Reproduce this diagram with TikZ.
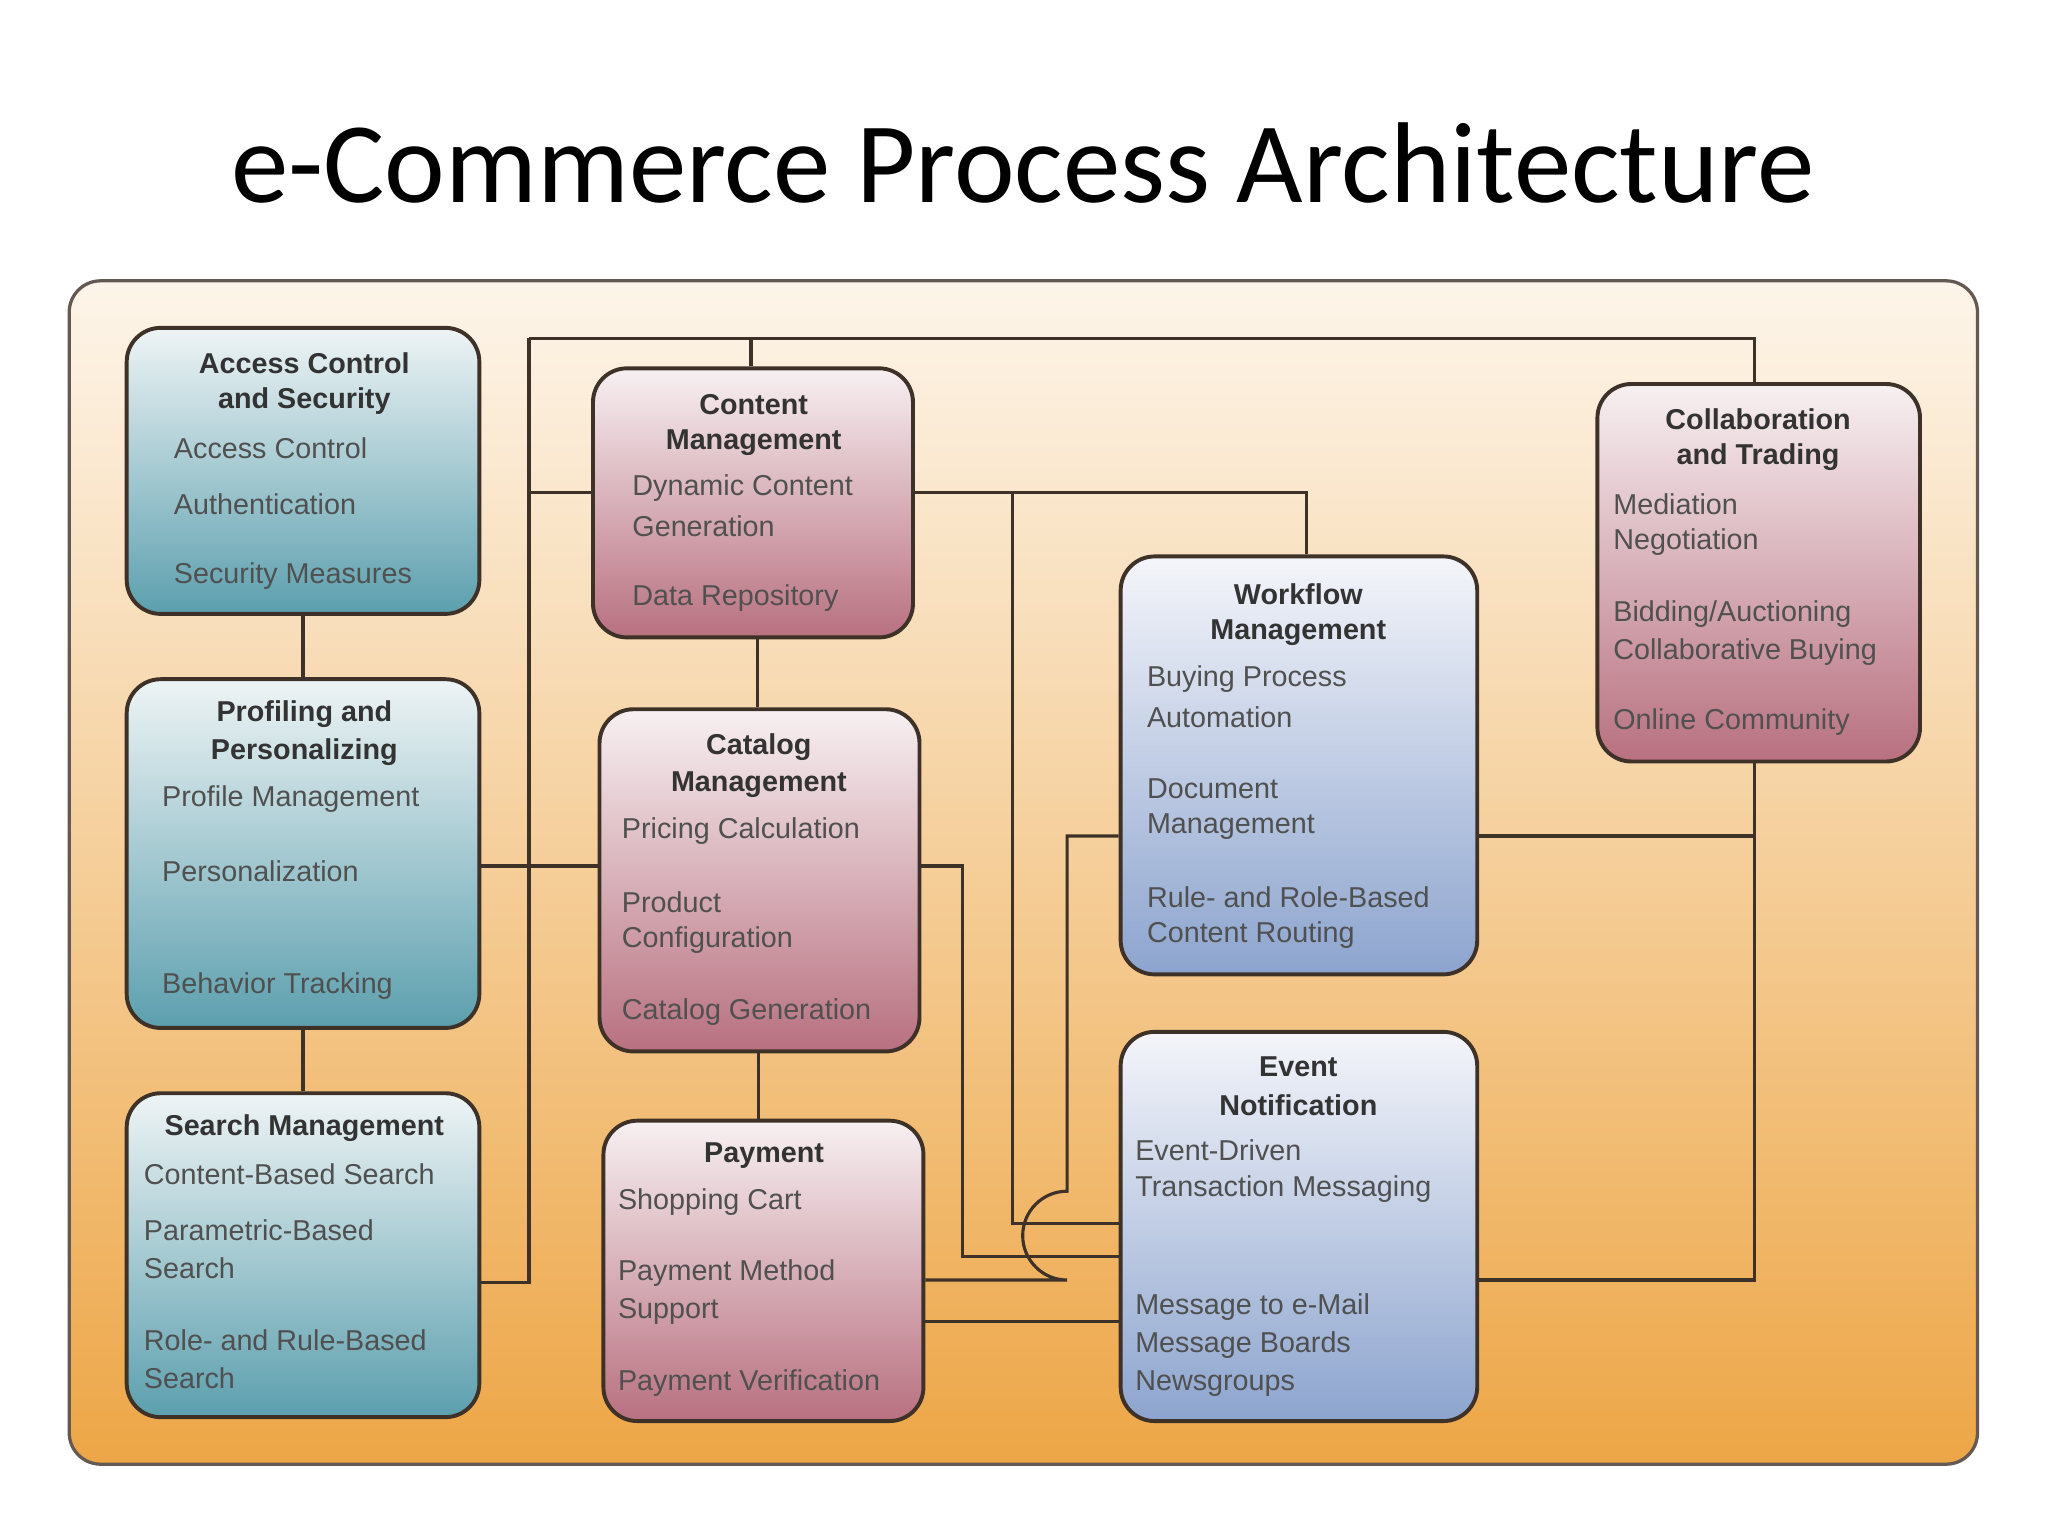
\documentclass[tikz,border=0pt]{standalone}
\usepackage{fontspec}
\setmainfont{Liberation Sans}
\newfontfamily\titlefont{Carlito}
\begin{document}
\begin{tikzpicture}[x=1pt,y=-1pt,
  box/.style={draw=linec,line width=3pt,rounded corners=26pt,inner sep=0pt},
  teal/.style={box,top color=tealtop,bottom color=tealbot},
  pink/.style={box,top color=pinktop,bottom color=pinkbot},
  blue/.style={box,top color=bluetop,bottom color=bluebot},
  hd/.style={font=\fontsize{22}{26}\selectfont\bfseries,text=headc,inner sep=0pt},
  it/.style={font=\fontsize{22}{26}\selectfont,text=itemc,anchor=west,inner sep=0pt},
  wire/.style={draw=linec,line width=2.4pt}]
\definecolor{linec}{HTML}{3E3128}
\definecolor{tealtop}{HTML}{EEF4F5}
\definecolor{tealbot}{HTML}{5C9FAE}
\definecolor{pinktop}{HTML}{F7F0F2}
\definecolor{pinkbot}{HTML}{B8707F}
\definecolor{bluetop}{HTML}{F4F5FA}
\definecolor{bluebot}{HTML}{8CA4CE}
\definecolor{orgtop}{HTML}{FDF5EA}
\definecolor{orgbot}{HTML}{EDA646}
\definecolor{headc}{HTML}{333333}
\definecolor{itemc}{HTML}{505050}
\useasboundingbox[fill=white] (0,0) rectangle (1568,1176);
\node[font=\titlefont\fontsize{88}{96}\selectfont] (title) at (783,125) {e-Commerce Process Architecture};
\node[draw=linec!80,line width=2.5pt,rounded corners=24pt,top color=orgtop,bottom color=orgbot,minimum width=1461pt,minimum height=906pt,inner sep=0pt] (panel) at (783.5,668) {};
% boxes
\node[teal,minimum width=270pt,minimum height=219pt] (access) at (232,360.5) {};
\node[teal,minimum width=270pt,minimum height=267pt] (prof) at (232,653.5) {};
\node[teal,minimum width=270pt,minimum height=248pt] (search) at (232,961) {};
\node[pink,minimum width=245pt,minimum height=206pt] (content) at (576.5,385) {};
\node[pink,minimum width=245pt,minimum height=262pt] (catalog) at (581.5,674) {};
\node[pink,minimum width=245pt,minimum height=230pt] (payment) at (584.5,973) {};
\node[blue,minimum width=273pt,minimum height=320pt] (workflow) at (994.5,586) {};
\node[blue,minimum width=273pt,minimum height=298pt] (event) at (994.5,939) {};
\node[pink,minimum width=247pt,minimum height=289pt] (collab) at (1346.5,438.5) {};
% wires
\coordinate (tl) at (405,259);
\coordinate (tr) at (1343,259);
\draw[wire] (tl) -- (tr) -- (collab.north -| tr);
\draw[wire] (575,259) -- (content.north -| 575,0);
\draw[wire] (tl) -- (405,982) -- (search.east |- 0,982);
\draw[wire] (content.west |- 0,377) -- (405,377);
\draw[wire] (prof.east |- 0,663) -- (catalog.west |- 0,663);
\draw[wire] (access.south) -- (prof.north);
\draw[wire] (prof.south) -- (search.north);
\draw[wire] (content.south -| 580,0) -- (catalog.north -| 580,0);
\draw[wire] (catalog.south -| 581,0) -- (payment.north -| 581,0);
\draw[wire] (content.east |- 0,377) -- (1000,377) -- (workflow.north -| 1000,0);
\draw[wire] (775,377) -- (775,937) -- (event.west |- 0,937);
\draw[wire] (catalog.east |- 0,663) -- (737,663) -- (737,962) -- (event.west |- 0,962);
\draw[wire] (workflow.west |- 0,640) -- (817,640) -- (817,912) arc[start angle=90,end angle=270,radius=34pt] -- (payment.east |- 0,980);
\draw[wire] (payment.east |- 0,1012) -- (event.west |- 0,1012);
\draw[wire] (workflow.east |- 0,640) -- (1343,640);
\draw[wire] (collab.south -| 1343,0) -- (1343,980) -- (event.east |- 0,980);
% texts
\node[hd] (h1) at (233,278) {Access Control};
\node[hd] (h2) at (233,307) {and Security};
\node[it] (a1) at (133,343) {Access Control};
\node[it] (a2) at (133,386) {Authentication};
\node[it] (a3) at (133,441) {Security Measures};
\node[hd] (h3) at (233,547) {Profiling and};
\node[hd] (h4) at (233,576) {Personalizing};
\node[it] (p1) at (124,612) {Profile Management};
\node[it] (p2) at (124,667) {Personalization};
\node[it] (p3) at (124,755) {Behavior Tracking};
\node[hd] (h5) at (233,864) {Search Management};
\node[it] (s1) at (110,899) {Content-Based Search};
\node[it] (s2) at (110,942) {Parametric-Based};
\node[it] (s3) at (110,971) {Search};
\node[it] (s4) at (110,1026) {Role- and Rule-Based};
\node[it] (s5) at (110,1055) {Search};
\node[hd] (h6) at (577,310) {Content};
\node[hd] (h7) at (577,339) {Management};
\node[it] (c1) at (484,374) {Dynamic Content};
\node[it] (c2) at (484,403) {Generation};
\node[it] (c3) at (484,458) {Data Repository};
\node[hd] (h8) at (581,572) {Catalog};
\node[hd] (h9) at (581,601) {Management};
\node[it] (k1) at (476,636) {Pricing Calculation};
\node[it] (k2) at (476,691) {Product};
\node[it] (k3) at (476,720) {Configuration};
\node[it] (k4) at (476,775) {Catalog Generation};
\node[hd] (h10) at (585,885) {Payment};
\node[it] (y1) at (473,920) {Shopping Cart};
\node[it] (y2) at (473,975) {Payment Method};
\node[it] (y3) at (473,1004) {Support};
\node[it] (y4) at (473,1059) {Payment Verification};
\node[hd] (h11) at (994,455) {Workflow};
\node[hd] (h12) at (994,484) {Management};
\node[it] (w1) at (878,520) {Buying Process};
\node[it] (w2) at (878,549) {Automation};
\node[it] (w3) at (878,604) {Document};
\node[it] (w4) at (878,633) {Management};
\node[it] (w5) at (878,687) {Rule- and Role-Based};
\node[it] (w6) at (878,716) {Content Routing};
\node[hd] (h13) at (994,817) {Event};
\node[hd] (h14) at (994,846) {Notification};
\node[it] (e1) at (869,881) {Event-Driven};
\node[it] (e2) at (869,910) {Transaction Messaging};
\node[it] (e3) at (869,1001) {Message to e-Mail};
\node[it] (e4) at (869,1030) {Message Boards};
\node[it] (e5) at (869,1059) {Newsgroups};
\node[hd] (h15) at (1346,321) {Collaboration};
\node[hd] (h16) at (1346,350) {and Trading};
\node[it] (l1) at (1235,386) {Mediation};
\node[it] (l2) at (1235,415) {Negotiation};
\node[it] (l3) at (1235,470) {Bidding/Auctioning};
\node[it] (l4) at (1235,499) {Collaborative Buying};
\node[it] (l5) at (1235,553) {Online Community};
\end{tikzpicture}
\end{document}
